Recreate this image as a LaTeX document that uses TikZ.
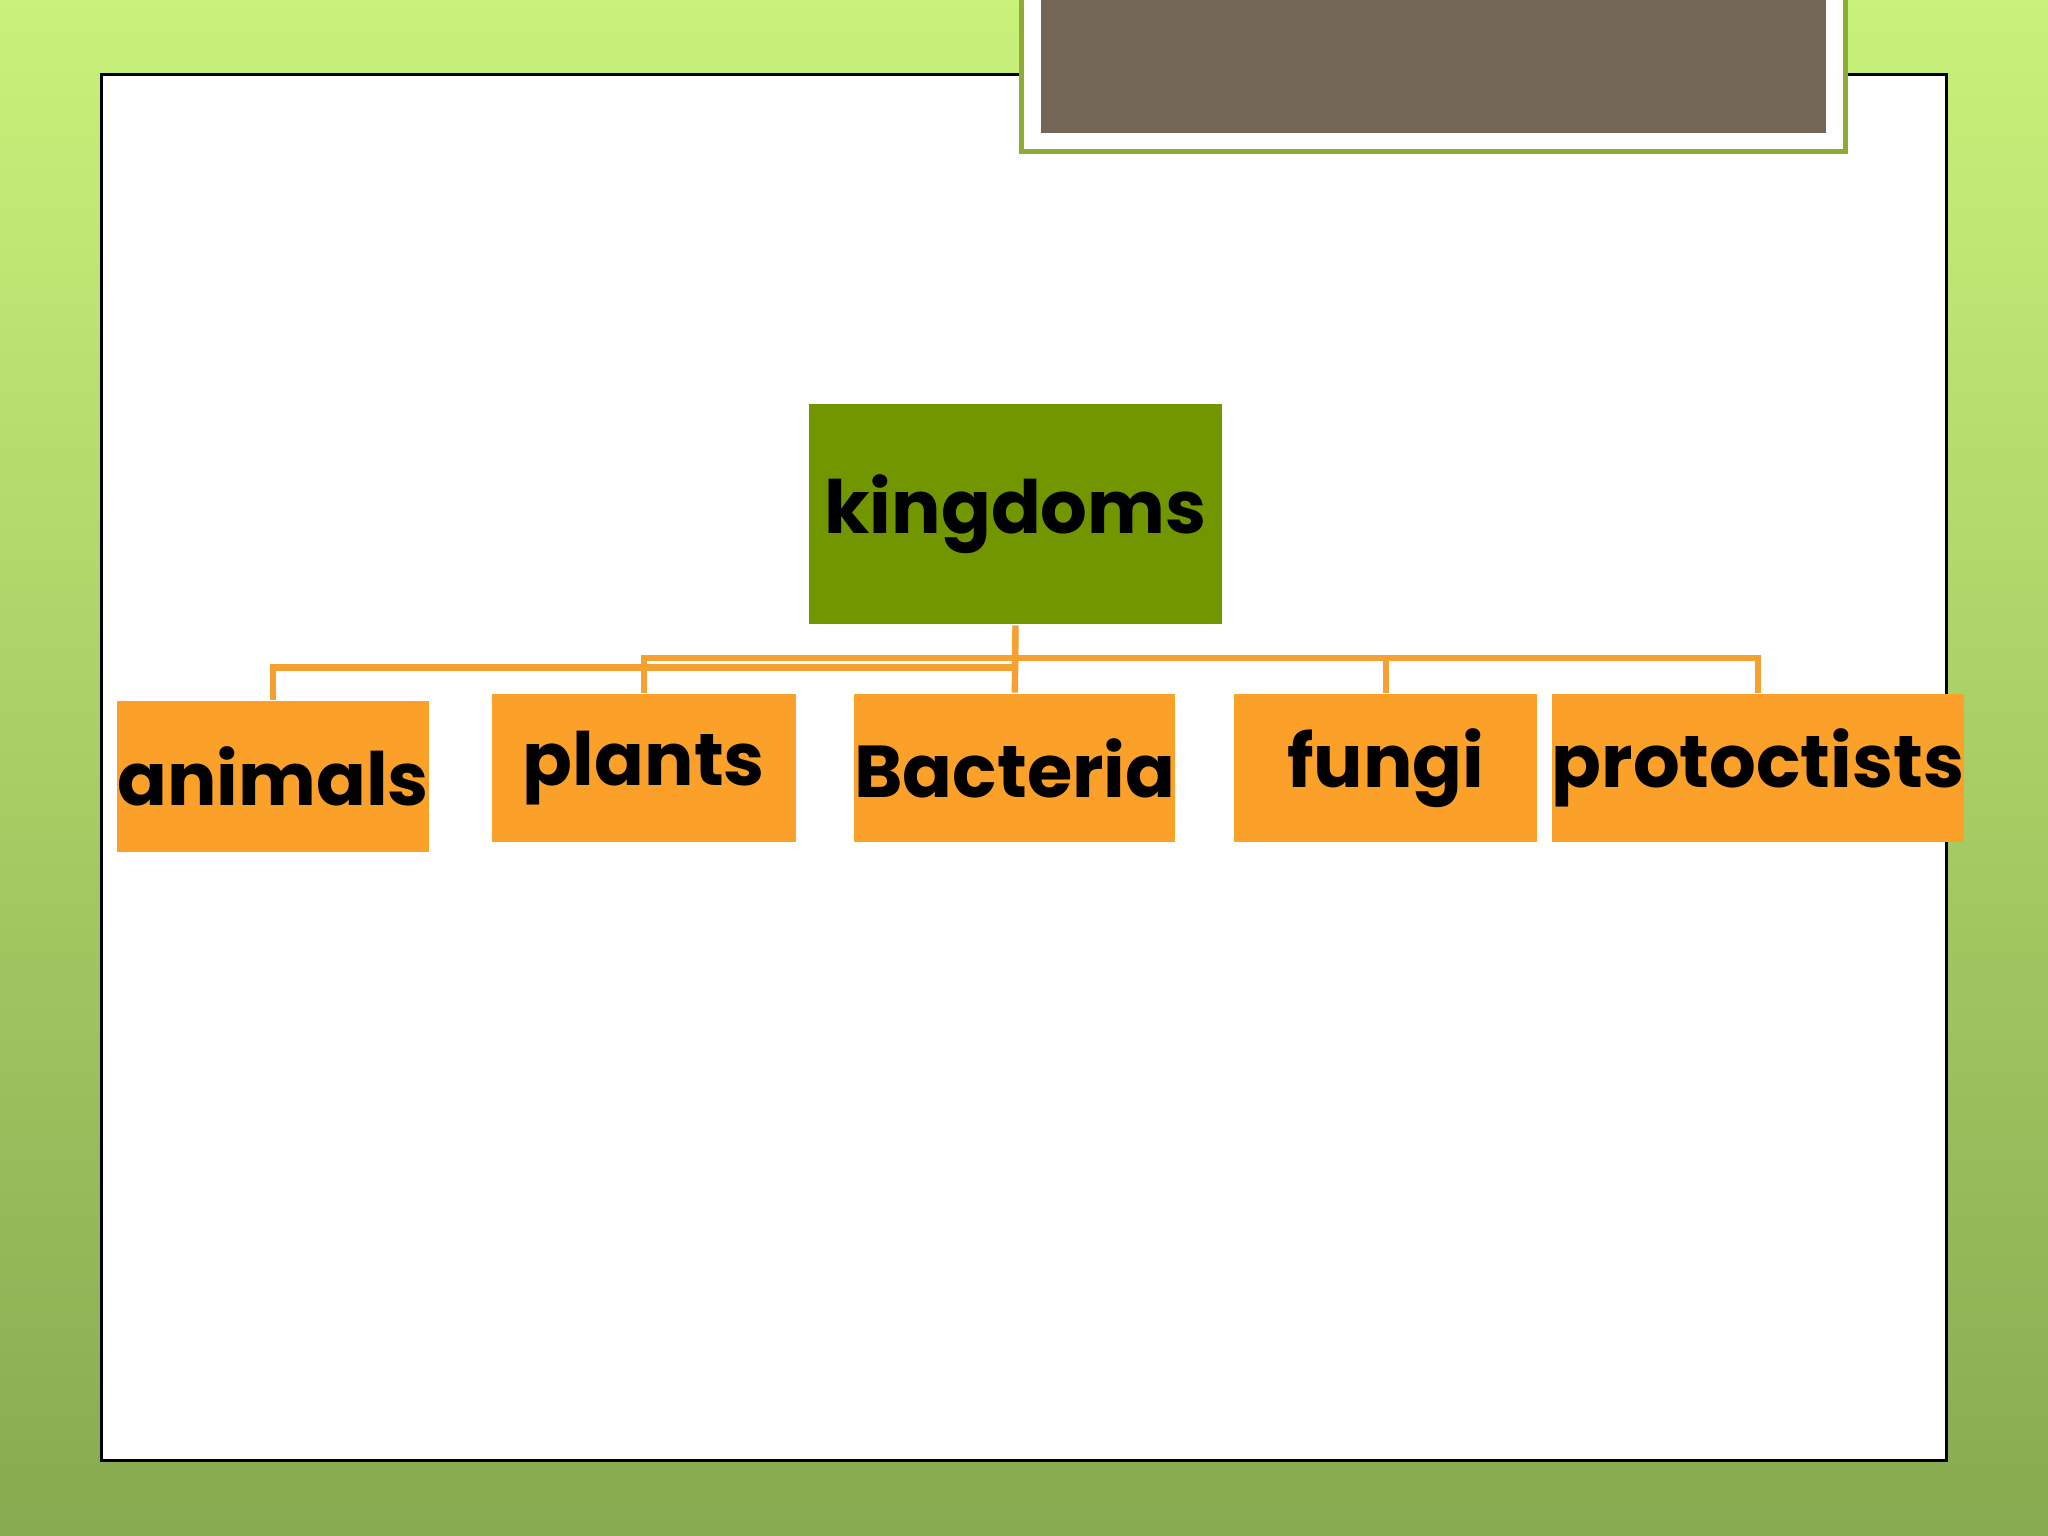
\documentclass[tikz,border=0pt]{standalone}
\usepackage{fontspec}
\setmainfont{Poppins}
\usepackage{xcolor}
\usetikzlibrary{positioning}
\definecolor{leafgreen}{HTML}{729600}
\definecolor{tangerine}{HTML}{FBA028}
\definecolor{linkorange}{HTML}{F5A030}
\definecolor{titlegrey}{HTML}{736657}
\definecolor{bgtop}{HTML}{C8F27A}
\definecolor{bgbottom}{HTML}{88AA50}

\begin{document}
\begin{tikzpicture}[x=0.01cm, y=-0.01cm,
    kingbox/.style={draw=none, fill=leafgreen, minimum width=3.01cm, minimum height=1.69cm, font=\fontsize{16}{18}\selectfont\bfseries},
    childbox/.style={draw=none, fill=tangerine, minimum width=2.32cm, minimum height=1.14cm, font=\fontsize{16}{18}\selectfont\bfseries, inner sep=0pt},
    link/.style={draw=linkorange, line width=1.4pt}
]
% background
\shade[top color=bgtop, bottom color=bgbottom] (0,0) rectangle (1568,1176);
\useasboundingbox (0,0) rectangle (1568,1176);
% slide
\draw[fill=white, line width=0.6pt] (78,57) rectangle (1490,1118);
\draw[fill=white, draw=leafgreen!80, line width=1.2pt] (782,-5) rectangle (1413,116);
\fill[titlegrey] (797,-5) rectangle (1398,102);
% nodes
\node[kingbox] (king) at (777.5,393.5) {kingdoms};
\node[childbox, minimum height=1.15cm] (animals) at (209,594.5) {animals};
\node[childbox] (plants) at (493,588) {plants};
\node[childbox] (bacteria) at (777,588) {Bacteria};
\node[childbox] (fungi) at (1061,588) {fungi};
\node[childbox] (protoctists) at (1346,588) {protoctists};
% connectors
\coordinate (bus) at (777,504);
\coordinate (lowbus) at (777,511);
\draw[link] (king.south) -- (bacteria.north);
\draw[link] (plants.north) |- (bus) -| (protoctists.north);
\draw[link] (fungi.north) |- (bus);
\draw[link] (animals.north) |- (lowbus);
\end{tikzpicture}
\end{document}
